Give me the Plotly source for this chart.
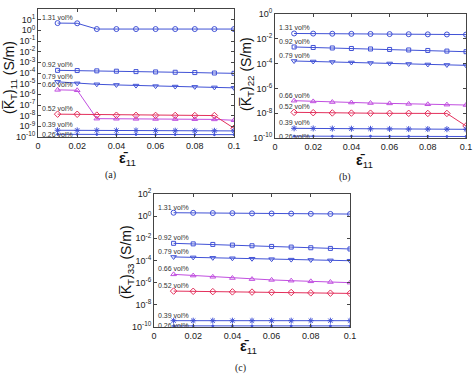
import plotly.graph_objects as go

# ---- data (log10 of conductivity, S/m) ----
strain = [0.01, 0.02, 0.03, 0.04, 0.05, 0.06, 0.07, 0.08, 0.09, 0.10]
vol_labels = ["1.31 vol%", "0.92 vol%", "0.79 vol%", "0.66 vol%", "0.52 vol%", "0.39 vol%", "0.26 vol%"]

# panel (a): (K_T)11
a_131 = [0.68, 0.66, 0.12, 0.12, 0.12, 0.12, 0.12, 0.12, 0.12, 0.12]
a_092 = [-3.75, -3.77, -3.80, -3.83, -3.87, -3.90, -3.93, -3.96, -4.00, -4.03]
a_079 = [-4.83, -4.97, -5.06, -5.12, -5.18, -5.23, -5.27, -5.30, -5.35, -5.39]
a_066 = [-5.58, -5.62, -8.28, -8.29, -8.30, -8.31, -8.32, -8.33, -8.35, -8.43]
a_052 = [-7.86, -7.87, -7.95, -7.96, -7.97, -7.98, -7.98, -7.99, -7.99, -9.18]
a_039 = [-9.37, -9.38, -9.38, -9.39, -9.39, -9.40, -9.41, -9.42, -9.42, -9.43]
a_026 = [-9.75, -9.75, -9.76, -9.76, -9.76, -9.77, -9.77, -9.77, -9.78, -9.78]

# panel (b): (K_T)22
b_131 = [-1.57, -1.58, -1.59, -1.60, -1.61, -1.62, -1.63, -1.64, -1.65, -1.66]
b_092 = [-2.66, -2.70, -2.74, -2.78, -2.82, -2.86, -2.90, -2.94, -2.99, -3.04]
b_079 = [-3.79, -3.83, -3.87, -3.91, -3.95, -3.99, -4.03, -4.07, -4.11, -4.14]
b_066 = [-6.99, -7.05, -7.10, -7.14, -7.18, -7.21, -7.25, -7.28, -7.31, -7.34]
b_052 = [-7.93, -7.96, -7.98, -7.99, -8.00, -8.01, -8.01, -8.02, -8.02, -9.03]
b_039 = [-9.22, -9.23, -9.24, -9.25, -9.26, -9.27, -9.28, -9.28, -9.29, -9.30]
b_026 = [-9.85, -9.85, -9.86, -9.86, -9.86, -9.87, -9.87, -9.87, -9.88, -9.88]

# panel (c): (K_T)33
c_131 = [0.31, 0.30, 0.28, 0.27, 0.25, 0.24, 0.23, 0.21, 0.20, 0.19]
c_092 = [-2.45, -2.50, -2.55, -2.61, -2.67, -2.73, -2.79, -2.85, -2.91, -2.96]
c_079 = [-3.68, -3.72, -3.76, -3.80, -3.84, -3.88, -3.92, -3.95, -3.99, -4.02]
c_066 = [-5.25, -5.36, -5.47, -5.58, -5.68, -5.75, -5.82, -5.88, -5.94, -6.00]
c_052 = [-6.76, -6.78, -6.81, -6.83, -6.85, -6.87, -6.89, -6.92, -6.95, -6.97]
c_039 = [-9.43, -9.43, -9.43, -9.43, -9.43, -9.43, -9.43, -9.43, -9.43, -9.43]
c_026 = [-9.90, -9.90, -9.90, -9.90, -9.90, -9.90, -9.90, -9.90, -9.90, -9.90]

x_ticks = [0, 0.02, 0.04, 0.06, 0.08, 0.1]
x_ticktext = ["0", "0.02", "0.04", "0.06", "0.08", "0.1"]
a_ytick_exp = [1, 0, -1, -2, -3, -4, -5, -6, -7, -8, -9, -10]
b_ytick_exp = [0, -2, -4, -6, -8, -10]
c_ytick_exp = [2, 0, -2, -4, -6, -8, -10]

BLUE = "#4152d6"
MAG = "#c14fe0"
RED = "#e3305c"
series_style = [
    (BLUE, "circle-open", 5),
    (BLUE, "square-open", 4),
    (BLUE, "triangle-down-open", 5),
    (MAG, "triangle-up-open", 5),
    (RED, "diamond-open", 5),
    (BLUE, "asterisk-open", 5),
    (BLUE, "circle", 2),
]

panels = [
    ("x", "y", [a_131, a_092, a_079, a_066, a_052, a_039, a_026], a_ytick_exp, [-10, 2]),
    ("x2", "y2", [b_131, b_092, b_079, b_066, b_052, b_039, b_026], b_ytick_exp, [-10, 0]),
    ("x3", "y3", [c_131, c_092, c_079, c_066, c_052, c_039, c_026], c_ytick_exp, [-10, 2]),
]

fig = go.Figure()
annotations = []
for xa, ya, series, _, _ in panels:
    for k, (vals, (col, sym, sz), lab) in enumerate(zip(series, series_style, vol_labels)):
        yv = [10 ** v for v in vals]
        fig.add_trace(go.Scatter(
            x=strain, y=yv, xaxis=xa, yaxis=ya, mode="lines+markers",
            line=dict(color=col, width=1),
            marker=dict(symbol=sym, size=sz, color=col, line=dict(color=col, width=1)),
            showlegend=False, cliponaxis=True,
        ))
        last = k == len(series) - 1
        annotations.append(dict(
            x=0.001, y=vals[0], xref=xa, yref=ya, text=lab, showarrow=False,
            xanchor="left", yanchor="middle" if last else "bottom", yshift=0,
            font=dict(family="Liberation Sans, Arial", size=7, color="#333333"),
        ))

axis_common = dict(
    showgrid=False, zeroline=False, showline=True, mirror="ticks",
    linecolor="#444444", linewidth=1, ticks="inside", ticklen=3, automargin=False,
    tickcolor="#444444", tickfont=dict(family="Liberation Sans, Arial", size=9, color="#222222"),
)

domains = [
    ([38 / 474, 234 / 474], [1 - 137 / 376, 1 - 9 / 376]),
    ([275 / 474, 466 / 474], [1 - 138 / 376, 1 - 14 / 376]),
    ([154 / 474, 350 / 474], [1 - 327 / 376, 1 - 194 / 376]),
]

layout = dict(
    width=474, height=376, autosize=False,
    margin=dict(l=0, r=0, t=0, b=0, pad=0),
    paper_bgcolor="white", plot_bgcolor="white",
)
for i, ((xa, ya, _, exps, yr), (dx, dy)) in enumerate(zip(panels, domains)):
    sx = "" if i == 0 else str(i + 1)
    layout["xaxis" + sx] = dict(
        axis_common, domain=dx, range=[0, 0.1], anchor=ya,
        tickvals=x_ticks, ticktext=x_ticktext,
    )
    layout["yaxis" + sx] = dict(
        axis_common, domain=dy, type="log", range=yr, anchor=xa,
        tickvals=[10 ** e for e in exps],
        ticktext=["10<sup>%d</sup>" % e for e in exps],
    )

ytitle = "(K\u0305<sub>T</sub>)<sub>%s</sub> (S/m)"
xtitle = "<b>\u03b5\u0304</b><sub>11</sub>"
centered = dict(xref="paper", yref="paper", showarrow=False, xanchor="center", yanchor="middle")
for (xc, yc, sub) in [(10, 78, "11"), (247, 74, "22"), (127, 262, "33")]:
    annotations.append(dict(centered, x=xc / 474, y=1 - yc / 376,
                            text=ytitle % sub, textangle=-90,
                            font=dict(family="Liberation Sans, Arial", size=14, color="#111111")))
for (xc, yc) in [(128, 159), (364, 161), (248, 347)]:
    annotations.append(dict(centered, x=xc / 474, y=1 - yc / 376, text=xtitle,
                            font=dict(family="Liberation Sans, Arial", size=14, color="#111111")))
for (xc, yc, t) in [(110, 175, "(a)"), (345, 177, "(b)"), (240, 368, "(c)")]:
    annotations.append(dict(centered, x=xc / 474, y=1 - yc / 376, text=t,
                            font=dict(family="Liberation Serif, DejaVu Serif", size=10, color="#222222")))

layout["annotations"] = annotations
fig.update_layout(**layout)
fig.write_html("out.html", config={"displayModeBar": False},
               post_script="document.body.style.margin='0';document.body.style.padding='0';")
